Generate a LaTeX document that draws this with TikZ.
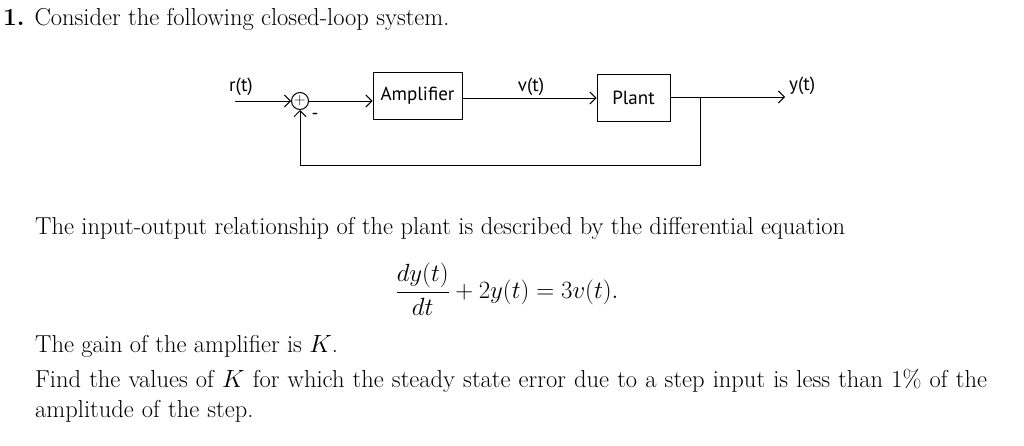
\documentclass[tikz,border=0pt]{standalone}
\usepackage{fontspec}
\newfontfamily\hand{PT Sans}
\usetikzlibrary{arrows.meta}
\begin{document}
\begin{tikzpicture}[x=1pt,y=-1pt,
  txt/.style={anchor=base west,inner sep=0,font=\fontsize{24.5}{30}\selectfont},
  blk/.style={draw,line width=1pt,minimum width=#1,minimum height=47,inner sep=0,font=\hand\fontsize{19}{20}\selectfont},
  lbl/.style={font=\hand\fontsize{19}{20}\selectfont,inner sep=0},
  sig/.style={line width=1pt,-{Straight Barb[length=6pt]}},
  ln/.style={line width=1pt}]
\useasboundingbox (0,0) rectangle (1024,445);
\node[txt] (t1) at (3,25) {\textbf{1.} Consider the following closed-loop system.};
\node[draw,circle,line width=1pt,minimum size=17,inner sep=0] (s) at (300,101) {};
\node[font=\fontsize{16}{16}\selectfont,inner sep=0] (plus) at (s.center) {+};
\node[blk=89] (amp) at (417.5,96) {Amplifier};
\node[blk=73] (pl) at (633.5,98) {Plant};
\coordinate (in) at (235,101);
\coordinate (out) at (785,97);
\coordinate (br) at (700,97);
\coordinate (c1) at (700,165);
\coordinate (c2) at (300,165);
\node[lbl] (r) at (241,87) {r(t)};
\node[lbl] (v) at (531,87) {v(t)};
\node[lbl,anchor=west] (y) at (789,86) {y(t)};
\node[lbl] (m) at (315,116) {-};
\draw[sig] (in) -- (s);
\draw[sig] (s) -- (amp.west|-s);
\draw[sig] (amp.east|-pl) -- (pl.west);
\draw[sig] (pl.east|-out) -- (out);
\draw[ln] (br) -- (c1) -- (c2);
\draw[sig] (c2) -- (s);
\node[txt] (t2) at (35,234) {The input-output relationship of the plant is described by the differential equation};
\node[inner sep=0,font=\fontsize{24.5}{30}\selectfont] (eq) at (507,289) {$\displaystyle\frac{dy(t)}{dt}+2y(t)=3v(t).$};
\node[txt] (t3) at (35,352) {The gain of the amplifier is $K$.};
\node[txt,anchor=north west,text width=985,align=left] (t4) at (35,369) {Find the values of $K$ for which the steady state error due to a step input is less than 1\% of the amplitude of the step.};
\end{tikzpicture}
\end{document}
